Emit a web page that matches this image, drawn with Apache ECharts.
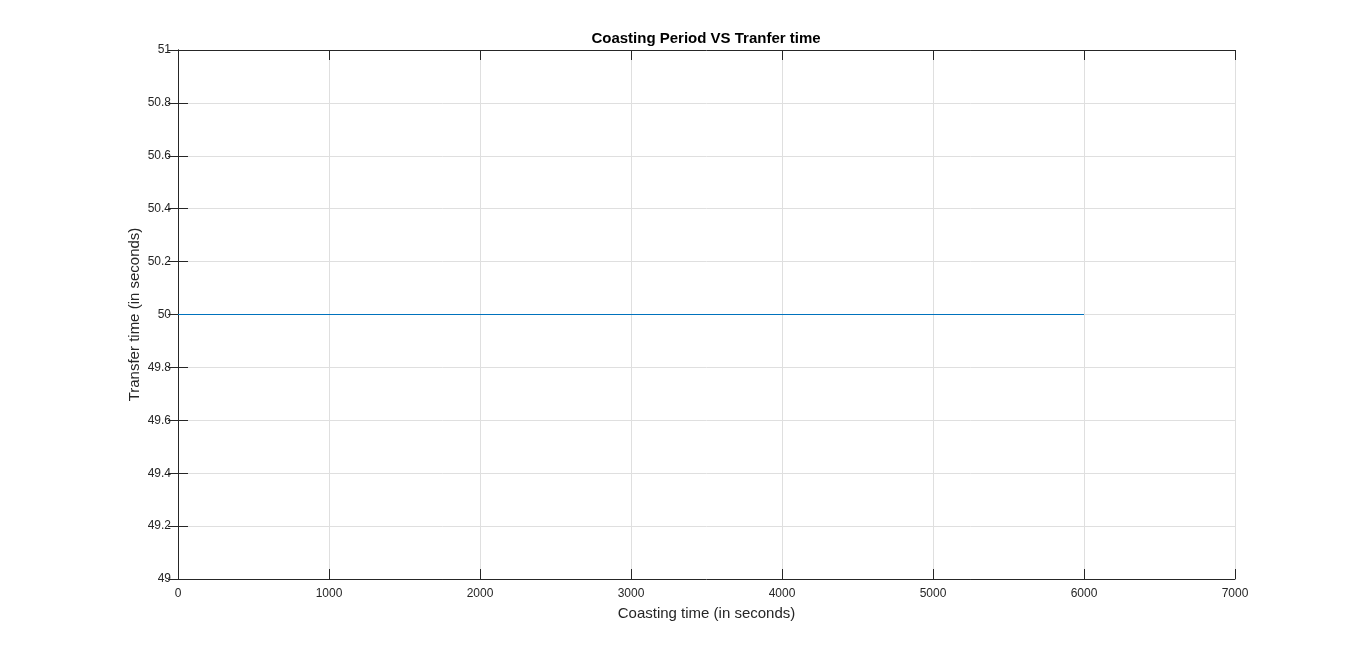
<!DOCTYPE html>
<html>
<head>
<meta charset="utf-8">
<script src="https://cdn.jsdelivr.net/npm/echarts@6/dist/echarts.min.js"></script>
<style>
  html, body { margin: 0; padding: 0; background: #fff; }
  #main { width: 1366px; height: 651px; }
</style>
</head>
<body>
<div id="main"></div>
<script>
// data
var coastingTime = [0, 1000, 2000, 3000, 4000, 5000, 6000];
var transferTime = [50, 50, 50, 50, 50, 50, 50];
var xTicks = [0, 1000, 2000, 3000, 4000, 5000, 6000, 7000];
var yTicks = [49, 49.2, 49.4, 49.6, 49.8, 50, 50.2, 50.4, 50.6, 50.8, 51];

var points = coastingTime.map(function (x, i) { return [x, transferTime[i]]; });

var chart = echarts.init(document.getElementById('main'));
var axisLine = { show: true, lineStyle: { color: '#262626', width: 1 } };
var tick = { show: true, inside: true, length: 10, lineStyle: { color: '#262626' } };
var font = 'Helvetica, Arial, "Liberation Sans", sans-serif';

var option = {
  backgroundColor: '#fff',
  animation: false,
  title: {
    text: 'Coasting Period VS Tranfer time',
    left: 701, top: 26, textAlign: 'center',
    textStyle: { fontFamily: font, fontSize: 15, fontWeight: 'bold', color: '#000' }
  },
  grid: { left: 178, right: 131, top: 50, bottom: 72 },
  xAxis: [{
    type: 'value', min: xTicks[0], max: xTicks[xTicks.length - 1], interval: 1000,
    position: 'bottom',
    name: 'Coasting time (in seconds)', nameLocation: 'middle', nameGap: 27,
    nameMoveOverlap: false,
    nameTextStyle: { fontFamily: font, fontSize: 15, color: '#262626' },
    axisLine: axisLine, axisTick: tick,
    axisLabel: {
      fontFamily: font, fontSize: 12, color: '#262626', margin: 9,
      formatter: function (v) { return String(v); }
    },
    splitLine: { show: true, lineStyle: { color: '#dfdfdf' } }
  }, {
    type: 'value', min: xTicks[0], max: xTicks[xTicks.length - 1], interval: 1000,
    position: 'top',
    axisLine: axisLine, axisTick: tick, axisLabel: { show: false }, splitLine: { show: false }
  }],
  yAxis: [{
    type: 'value', min: yTicks[0], max: yTicks[yTicks.length - 1], interval: 0.2,
    position: 'left',
    name: 'Transfer time (in seconds)', nameLocation: 'middle', nameGap: 36,
    nameMoveOverlap: false,
    nameTextStyle: { fontFamily: font, fontSize: 15, color: '#262626' },
    axisLine: axisLine, axisTick: tick,
    axisLabel: {
      fontFamily: font, fontSize: 12, color: '#262626', margin: 7,
      formatter: function (v) { return String(Math.round(v * 10) / 10); }
    },
    splitLine: { show: true, lineStyle: { color: '#dfdfdf' } }
  }, {
    type: 'value', min: yTicks[0], max: yTicks[yTicks.length - 1], interval: 0.2,
    position: 'right',
    axisLine: axisLine, axisTick: tick, axisLabel: { show: false }, splitLine: { show: false }
  }],
  series: [{
    type: 'line',
    data: points,
    showSymbol: false,
    lineStyle: { color: '#0072BD', width: 1 },
    itemStyle: { color: '#0072BD' }
  }]
};
chart.setOption(option);
</script>
</body>
</html>
